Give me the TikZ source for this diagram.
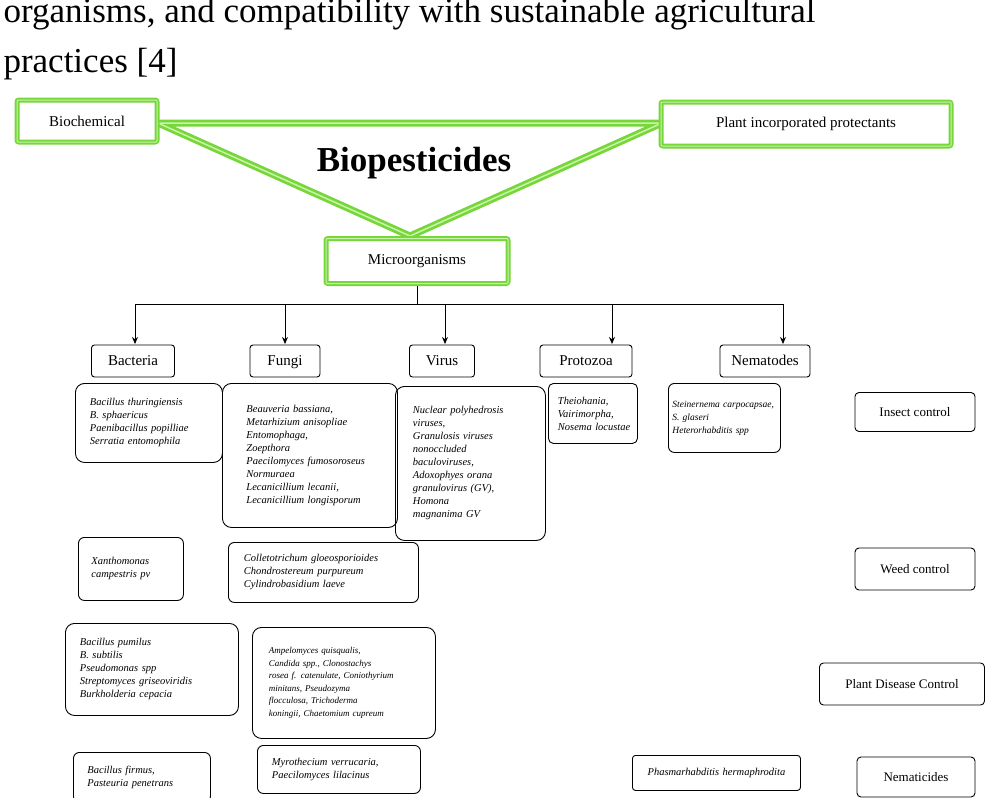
\documentclass[tikz,border=0pt]{standalone}
\usepackage{fontspec}
\setmainfont{Liberation Serif}
\usetikzlibrary{arrows.meta}
\definecolor{lime}{RGB}{118,214,58}
\definecolor{limelight}{RGB}{200,245,170}
\begin{document}
\begin{tikzpicture}[x=1pt,y=-1pt,
  gbox/.style={draw=lime, line width=5pt, fill=white, inner sep=0pt, rounded corners=2pt, font=\fontsize{15}{17}\selectfont},
  cat/.style={draw, line width=0.9pt, rounded corners=3pt, inner sep=0pt, text height=11pt, text depth=3pt, font=\fontsize{15}{17}\selectfont},
  lst/.style={draw, line width=0.9pt, rounded corners=9pt, inner sep=0pt, align=left, font=\fontsize{10.5}{13}\selectfont\itshape},
  ctl/.style={draw, line width=0.9pt, rounded corners=4pt, inner sep=0pt, font=\fontsize{13}{15}\selectfont},
  arr/.style={-{Stealth[length=7pt,width=6pt]}, line width=0.8pt}]
\useasboundingbox (0,0) rectangle (991,798);
\node[anchor=base west, font=\fontsize{35}{38}\selectfont] (t1) at (0,22) {organisms, and compatibility with sustainable agricultural};
\node[anchor=base west, font=\fontsize{35}{38}\selectfont] (t2) at (0,72) {practices [4]};
% triangle
\coordinate (tl) at (158,123); \coordinate (tr) at (662,123); \coordinate (ap) at (410,236);
\draw[draw=lime, line width=7pt, line join=round] (tl) -- (tr) -- (ap) -- cycle;
\draw[draw=limelight, line width=1.5pt, line join=round] (tl) -- (tr) -- (ap) -- cycle;
\node[gbox, minimum width=140, minimum height=42] (bio) at (87,121) {Biochemical};
\node[gbox, minimum width=290, minimum height=44] (pip) at (806,124) {Plant incorporated protectants};
\draw[draw=limelight, line width=1pt, rounded corners=1pt] ([shift={(2.5,2.5)}]bio.north west) rectangle ([shift={(-2.5,-2.5)}]bio.south east);
\draw[draw=limelight, line width=1pt, rounded corners=1pt] ([shift={(2.5,2.5)}]pip.north west) rectangle ([shift={(-2.5,-2.5)}]pip.south east);
\node[gbox, minimum width=182, minimum height=45] (mic) at (417,261) {Microorganisms};
\draw[draw=limelight, line width=1pt, rounded corners=1pt] ([shift={(2.5,2.5)}]mic.north west) rectangle ([shift={(-2.5,-2.5)}]mic.south east);
\node[font=\fontsize{35}{38}\selectfont\bfseries] (bp) at (414,163) {Biopesticides};
% tree
\node[cat, minimum width=83, minimum height=32] (bac) at (133,361) {Bacteria};
\node[cat, minimum width=70, minimum height=32] (fun) at (285,361) {Fungi};
\node[cat, minimum width=65, minimum height=32] (vir) at (442,361) {Virus};
\node[cat, minimum width=92, minimum height=32] (pro) at (586,361) {Protozoa};
\node[cat, minimum width=90, minimum height=32] (nem) at (765,361) {Nematodes};
\coordinate (hub) at (417,304);
\draw[line width=0.8pt] (mic.south) -- (hub);
\draw[line width=0.8pt] (135,304) -- (783,304);
\foreach \x/\n in {135/bac,285/fun,445/vir,612/pro,783/nem}{\draw[arr] (\x,304) -- (\x,344);}
% row 1
\node[lst, minimum width=147, minimum height=79, anchor=north west, text width=130] (l1) at (75,383) {\hspace*{6pt}Bacillus thuringiensis\\\hspace*{6pt}B. sphaericus\\\hspace*{6pt}Paenibacillus popilliae\\\hspace*{6pt}Serratia entomophila\\[12pt]};
\node[lst, minimum width=175, minimum height=144, anchor=north west, text width=155] (l2) at (222,383) {\hspace*{14pt}Beauveria bassiana,\\\hspace*{14pt}Metarhizium anisopliae\\\hspace*{14pt}Entomophaga,\\\hspace*{14pt}Zoepthora\\\hspace*{14pt}Paecilomyces fumosoroseus\\\hspace*{14pt}Normuraea\\\hspace*{14pt}Lecanicillium lecanii,\\\hspace*{14pt}Lecanicillium longisporum\\[8pt]};
\node[lst, minimum width=150, minimum height=154, anchor=north west, text width=135] (l3) at (395,386) {\hspace*{10pt}Nuclear polyhedrosis\\\hspace*{10pt}viruses,\\\hspace*{10pt}Granulosis viruses\\\hspace*{10pt}nonoccluded\\\hspace*{10pt}baculoviruses,\\\hspace*{10pt}Adoxophyes orana\\\hspace*{10pt}granulovirus (GV),\\\hspace*{10pt}Homona\\\hspace*{10pt}magnanima GV\\[10pt]};
\node[lst, rounded corners=5pt, minimum width=89, minimum height=60, anchor=north west, text width=80] (l4) at (548,383) {\hspace*{5pt}Theiohania,\\\hspace*{5pt}Vairimorpha,\\\hspace*{5pt}Nosema locustae\\[10pt]};
\node[lst, font=\fontsize{9.5}{13}\selectfont\itshape, rounded corners=6pt, minimum width=112, minimum height=69, anchor=north west, text width=112] (l5) at (668,383) {\hspace*{4pt}Steinernema carpocapsae,\\\hspace*{4pt}S. glaseri\\\hspace*{4pt}Heterorhabditis spp\\[22pt]};
\node[ctl, minimum width=120, minimum height=39] (ic) at (915,412) {Insect control};
% row 2
\node[lst, rounded corners=6pt, minimum width=105, minimum height=63, anchor=north west, text width=95] (l6) at (78,537) {\hspace*{8pt}Xanthomonas\\\hspace*{8pt}campestris pv\\[14pt]};
\node[lst, rounded corners=6pt, minimum width=190, minimum height=60, anchor=north west, text width=175] (l7) at (228,542) {\hspace*{8pt}Colletotrichum gloeosporioides\\\hspace*{8pt}Chondrostereum purpureum\\\hspace*{8pt}Cylindrobasidium laeve};
\node[ctl, minimum width=120, minimum height=42] (wc) at (915,569) {Weed control};
% row 3
\node[lst, minimum width=173, minimum height=92, anchor=north west, text width=160] (l8) at (65,623) {\hspace*{8pt}Bacillus pumilus\\\hspace*{8pt}B. subtilis\\\hspace*{8pt}Pseudomonas spp\\\hspace*{8pt}Streptomyces griseoviridis\\\hspace*{8pt}Burkholderia cepacia\\[6pt]};
\node[lst, font=\fontsize{9}{12.5}\selectfont\itshape, minimum width=183, minimum height=111, anchor=north west, text width=170] (l9) at (252,627) {\hspace*{10pt}Ampelomyces quisqualis,\\\hspace*{10pt}Candida spp., Clonostachys\\\hspace*{10pt}rosea f. catenulate, Coniothyrium\\\hspace*{10pt}minitans, Pseudozyma\\\hspace*{10pt}flocculosa, Trichoderma\\\hspace*{10pt}koningii, Chaetomium cupreum\\[22pt]};
\node[ctl, minimum width=165, minimum height=42] (pdc) at (902,684) {Plant Disease Control};
% row 4
\node[lst, rounded corners=6pt, minimum width=137, minimum height=50, anchor=north west, text width=125] (l10) at (73,752) {\hspace*{8pt}Bacillus firmus,\\\hspace*{8pt}Pasteuria penetrans};
\node[lst, rounded corners=6pt, minimum width=163, minimum height=48, anchor=north west, text width=150] (l11) at (257,745) {\hspace*{8pt}Myrothecium verrucaria,\\\hspace*{8pt}Paecilomyces lilacinus\\[6pt]};
\node[lst, rounded corners=3pt, minimum width=168, minimum height=35, anchor=north west, text width=168, align=center] (l12) at (632,755) {Phasmarhabditis hermaphrodita};
\node[ctl, minimum width=118, minimum height=40] (nc) at (916,777) {Nematicides};
\end{tikzpicture}
\end{document}
